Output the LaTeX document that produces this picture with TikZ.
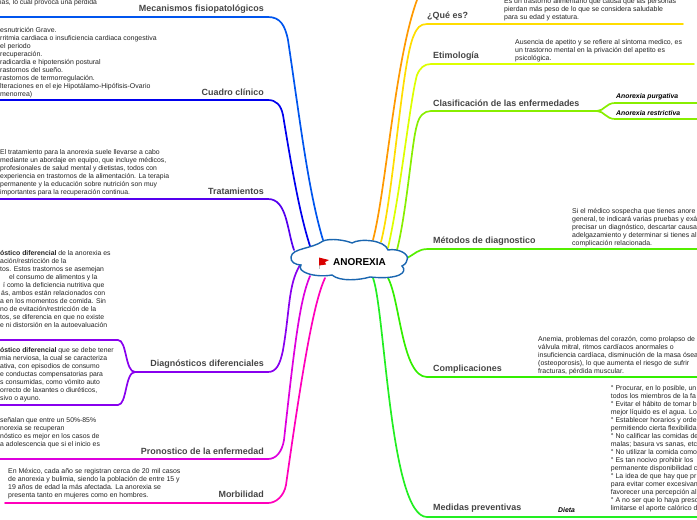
\documentclass[tikz,border=0pt]{standalone}
\usepackage{fontspec}
\setmainfont{Liberation Sans}
\usetikzlibrary{positioning}
\definecolor{mecanismos}{HTML}{0055EE}
\definecolor{cuadro}{HTML}{0000EE}
\definecolor{tratamientos}{HTML}{5500EE}
\definecolor{diagnosticos}{HTML}{8800EE}
\definecolor{pronostico}{HTML}{DD00DD}
\definecolor{morbilidad}{HTML}{FF00BB}
\definecolor{naranja}{HTML}{FF9900}
\definecolor{quees}{HTML}{FFDD00}
\definecolor{etimologia}{HTML}{DDFF00}
\definecolor{clasificacion}{HTML}{88EE00}
\definecolor{metodos}{HTML}{55EE00}
\definecolor{complicaciones}{HTML}{33EE00}
\definecolor{medidas}{HTML}{22EE22}
\definecolor{nube}{HTML}{1A66B0}
\definecolor{titulo}{HTML}{444444}
\definecolor{cuerpo}{HTML}{222222}
\tikzset{branch/.style={line width=1.7pt, line cap=round}}
\tikzset{tituloR/.style={anchor=east, inner sep=0pt, text=titulo, font=\fontsize{8.95}{10}\selectfont\bfseries}}
\tikzset{tituloL/.style={anchor=west, inner sep=0pt, text=titulo, font=\fontsize{8.95}{10}\selectfont\bfseries}}
\tikzset{txt/.style={anchor=north west, align=left, inner sep=0pt, text=cuerpo, font=\fontsize{6.95}{8}\selectfont, execute at begin node=\strut}}
\tikzset{txtL/.style={txt, font=\fontsize{6.85}{8}\selectfont}}
\tikzset{sub/.style={anchor=west, inner sep=0pt, text=black, font=\fontsize{6.85}{8}\selectfont\bfseries\itshape}}
\begin{document}
\begin{tikzpicture}[x=1pt,y=-1pt]
	\useasboundingbox (0,0) rectangle (697,520);
	% points on the cloud
	\coordinate (rMec) at (323,240);
	\coordinate (rCua) at (310,246);
	\coordinate (rTra) at (294,250);
	\coordinate (rDia) at (300,265);
	\coordinate (rPro) at (310,276);
	\coordinate (rMor) at (325,278);
	\coordinate (rNar) at (373,240);
	\coordinate (rQue) at (381,242);
	\coordinate (rEti) at (388,248);
	\coordinate (rCla) at (397,250);
	\coordinate (rMet) at (407,258);
	\coordinate (rCom) at (388,278);
	\coordinate (rMed) at (373,278);

	% left titles
	\node[tituloR] (Mec) at (264,9) {Mecanismos fisiopatológicos};
	\node[tituloR] (Cua) at (264,92) {Cuadro clínico};
	\node[tituloR] (Tra) at (264,191) {Tratamientos};
	\node[tituloR] (Dia) at (264,364) {Diagnósticos diferenciales};
	\node[tituloR] (Pro) at (264,451) {Pronostico de la enfermedad};
	\node[tituloR] (Mor) at (264,494) {Morbilidad};
	% right titles
	\node[tituloL] (Que) at (427,16) {¿Qué es?};
	\node[tituloL] (Eti) at (433,56) {Etimología};
	\node[tituloL] (Cla) at (433,103) {Clasificación de las enfermedades};
	\node[tituloL] (Met) at (433,241) {Métodos de diagnostico};
	\node[tituloL] (Com) at (433,369) {Complicaciones};
	\node[tituloL] (Med) at (433,508) {Medidas preventivas};
	\node[sub] (Pur) at (616,97) {Anorexia purgativa};
	\node[sub] (Res) at (616,113) {Anorexia restrictiva};
	\node[sub] (Die) at (558,510) {Dieta};

	% left texts
	\node[txtL] (tMec) at (0,-1) {ias, lo cual provoca una pérdida};
	\node[txt] (tCua) at (0,26.7) {esnutrición Grave.\\rritmia cardiaca o insuficiencia cardiaca congestiva\\el periodo\\recuperación.\\radicardia e hipotensión postural\\rastornos del sueño.\\rastornos de termorregulación.\\lteraciones en el eje Hipotálamo-Hipófisis-Ovario\\menorrea)};
	\node[txtL] (tTra) at (0,149.3) {El tratamiento para la anorexia suele llevarse a cabo\\mediante un abordaje en equipo, que incluye médicos,\\profesionales de salud mental y dietistas, todos con\\experiencia en trastornos de la alimentación. La terapia\\permanente y la educación sobre nutrición son muy\\importantes para la recuperación continua.};
	\node[txtL] (tDiaA) at (0,250.3) {\textbf{óstico diferencial} de la anorexia es\\ación/restricción de la\\tos. Estos trastornos se asemejan\\\hspace*{9pt}el consumo de alimentos y la\\\hspace*{3pt}í como la deficiencia nutritiva que\\\hspace*{1pt}ás, ambos están relacionados con\\a en los momentos de comida. Sin\\no de evitación/restricción de la\\tos, se diferencia en que no existe\\e ni distorsión en la autoevaluación};
	\node[txtL] (tDiaB) at (0,347.7) {\textbf{óstico diferencial} que se debe tener\\mia nerviosa, la cual se caracteriza\\ativa, con episodios de consumo\\e conductas compensatorias para\\s consumidas, como vómito auto\\orrecto de laxantes o diuréticos,\\sivo o ayuno.};
	\node[txtL] (tPro) at (0,417.7) {señalan que entre un 50\%-85\%\\norexia se recuperan\\nóstico es mejor en los casos de\\a adolescencia que si el inicio es};
	\node[txt] (tMor) at (8,468) {En México, cada año se registran cerca de 20 mil casos\\de anorexia y bulimia, siendo la población de entre 15 y\\19 años de edad la más afectada. La anorexia se\\presenta tanto en mujeres como en hombres.};
	% right texts
	\node[txt] (tQue) at (504,-1.3) {Es un trastorno alimentario que causa que las personas\\pierdan más peso de lo que se considera saludable\\para su edad y estatura.};
	\node[txt] (tEti) at (515,38.7) {Ausencia de apetito y se refiere al síntoma medico, es\\un trastorno mental en la privación del apetito es\\psicológica.};
	\node[txt] (tMet) at (572,207.7) {Si el médico sospecha que tienes anore\\general, te indicará varias pruebas y exá\\precisar un diagnóstico, descartar causa\\adelgazamiento y determinar si tienes al\\complicación relacionada.};
	\node[txt] (tCom) at (538,336) {Anemia, problemas del corazón, como prolapso de\\válvula mitral, ritmos cardíacos anormales o\\insuficiencia cardíaca, disminución de la masa ósea\\(osteoporosis), lo que aumenta el riesgo de sufrir\\fracturas, pérdida muscular.};
	\node[txt] (tMed) at (610.7,385.3) {° Procurar, en lo posible, un\\todos los miembros de la fa\\° Evitar el hábito de tomar b\\mejor líquido es el agua. Lo\\° Establecer horarios y orde\\permitiendo cierta flexibilida\\° No calificar las comidas de\\malas; basura vs sanas, etc\\° No utilizar la comida como\\° Es tan nocivo prohibir los\\permanente disponibilidad c\\° La idea de que hay que pr\\para evitar comer excesivan\\favorecer una percepción al\\° A no ser que lo haya presc\\limitarse el aporte calórico d};

	% free ends
	\coordinate (eMec) at (0,17);
	\coordinate (eCua) at (0,100);
	\coordinate (eTra) at (0,199);
	\coordinate (ePro) at (0,459);
	\coordinate (eMor) at (5,503);
	\coordinate (eDiaA) at (0,340);
	\coordinate (eDiaB) at (0,405);
	\coordinate (eNar) at (417,0);
	\coordinate (eQue) at (683,24);
	\coordinate (eEti) at (694,64);
	\coordinate (eMet) at (697,249);
	\coordinate (eCom) at (697,377);
	\coordinate (eMed) at (697,517);
	\coordinate (ePur) at (697,103);
	\coordinate (eRes) at (697,119);
	\coordinate (jDia) at (135,372);
	\coordinate (jCla) at (597,111);

	% left branches
	\draw[branch, mecanismos] (rMec) .. controls (308,190) and (300,120) .. (288,40) .. controls (285,25) and (280,17) .. (268,17) -- (eMec);
	\draw[branch, cuadro] (rCua) .. controls (300,215) and (292,170) .. (283,115) .. controls (281,105) and (276,100) .. (268,100) -- (eCua);
	\draw[branch, tratamientos] (rTra) .. controls (287,230) and (287,199) .. (268,199) -- (eTra);
	\draw[branch, diagnosticos] (rDia) .. controls (288,285) and (290,310) .. (283,350) .. controls (280,365) and (276,372) .. (268,372) -- (jDia);
	\draw[branch, diagnosticos] (jDia) .. controls (125,372) and (127,340) .. (118,340) -- (eDiaA);
	\draw[branch, diagnosticos] (jDia) .. controls (125,372) and (127,405) .. (118,405) -- (eDiaB);
	\draw[branch, pronostico] (rPro) .. controls (300,300) and (295,340) .. (284,440) .. controls (282,452) and (276,459) .. (268,459) -- (ePro);
	\draw[branch, morbilidad] (rMor) .. controls (315,300) and (305,350) .. (286,485) .. controls (284,496) and (276,503) .. (268,503) -- (eMor);
	% right branches
	\draw[branch, naranja] (rNar) .. controls (386,190) and (395,60) .. (eNar);
	\draw[branch, quees] (rQue) .. controls (394,190) and (402,60) .. (414,35) .. controls (417,28) and (420,24) .. (427,24) -- (eQue);
	\draw[branch, etimologia] (rEti) .. controls (401,190) and (410,100) .. (417,75) .. controls (420,68) and (424,64) .. (431,64) -- (eEti);
	\draw[branch, clasificacion] (rCla) .. controls (407,210) and (412,140) .. (417,125) .. controls (419,116) and (424,111) .. (431,111) -- (jCla);
	\draw[branch, clasificacion] (jCla) .. controls (604,111) and (606,103) .. (615,103) -- (ePur);
	\draw[branch, clasificacion] (jCla) .. controls (604,111) and (606,119) .. (615,119) -- (eRes);
	\draw[branch, metodos] (rMet) .. controls (415,254) and (418,249) .. (428,249) -- (eMet);
	\draw[branch, complicaciones] (rCom) .. controls (400,300) and (402,377) .. (427,377) -- (eCom);
	\draw[branch, medidas] (rMed) .. controls (385,310) and (390,517) .. (427,517) -- (eMed);

	% cloud
	\draw[line width=1.4pt, nube, fill=white] (291,257)
		.. controls (292,248) and (312,249) .. (323,241)
		.. controls (330,238) and (345,240) .. (352,243)
		.. controls (360,238) and (385,240) .. (388,250)
		.. controls (398,248) and (410,254) .. (407,260)
		.. controls (406,264) and (404,265) .. (402,266)
		.. controls (408,272) and (400,280) .. (370,277)
		.. controls (360,280) and (340,282) .. (332,275)
		.. controls (315,278) and (296,272) .. (301,265)
		.. controls (296,265) and (290,262) .. (291,257) -- cycle;
	\node[inner sep=0pt, font=\fontsize{10}{11}\selectfont\bfseries] (root) at (359.5,262) {ANOREXIA};
	% flag
	\draw[line width=0.6pt, gray!50] (319,257.5) -- (319,269);
	\fill[red!85!black] (319,257.5) -- (329,260) -- (325,262) -- (326,264.5) -- (319,265.5) -- cycle;
\end{tikzpicture}
\end{document}
